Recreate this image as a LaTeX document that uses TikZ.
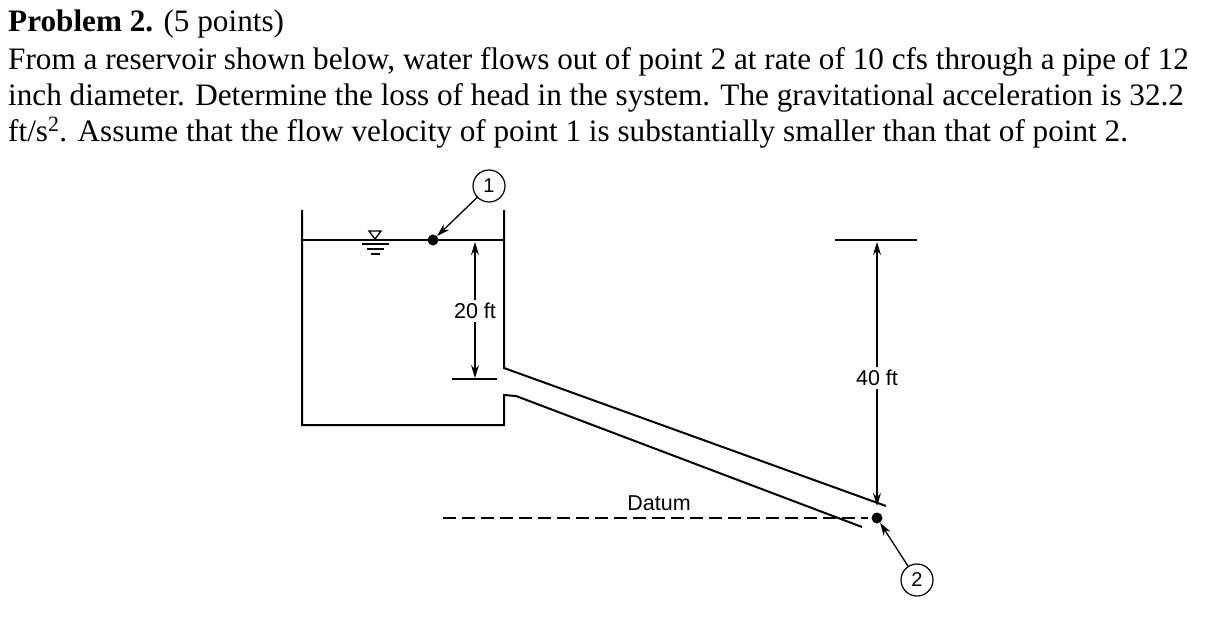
\documentclass[tikz,border=0pt]{standalone}
\usepackage{fontspec}
\setmainfont{Liberation Serif}
\newfontfamily\lsans{Liberation Sans}
\usetikzlibrary{arrows.meta}
\begin{document}
\begin{tikzpicture}[x=1pt,y=-1pt,
  ln/.style={line width=2pt},
  tl/.style={line width=1.3pt},
  arr/.style={tl,-{Stealth[length=13pt,width=8pt]}},
  lbl/.style={font=\lsans\fontsize{21.5}{24}\selectfont,inner sep=3pt},
  txt/.style={anchor=base west,inner sep=0pt,font=\fontsize{31.2}{36}\selectfont},
  pt/.style={circle,fill=black,inner sep=0pt,minimum size=11pt},
  cnum/.style={circle,draw,line width=1.2pt,minimum size=32pt,inner sep=0pt,font=\lsans\fontsize{20}{22}\selectfont}]
\useasboundingbox (0,0) rectangle (1212,622);
\node[txt] (t0) at (8,31) {\textbf{Problem 2.} (5 points)};
\node[txt] (t1) at (8,69) {From a reservoir shown below, water flows out of point 2 at rate of 10 cfs through a pipe of 12};
\node[txt] (t2) at (8,105) {inch diameter. Determine the loss of head in the system. The gravitational acceleration is 32.2};
\node[txt] (t3) at (8,141) {ft/s\textsuperscript{2}. Assume that the flow velocity of point 1 is substantially smaller than that of point 2.};
% reservoir
\draw[ln] (302,210) -- (302,425) -- (504,425) -- (504,395) -- (516,396) -- (862,527);
\draw[ln] (504,210) -- (504,368) -- (886,506);
\draw[tl] (302,240) -- (504,240);
% water symbol
\draw[tl] (369,231) -- (381,231) -- (375,239) -- cycle;
\draw[tl] (362,244) -- (389,244) (367,249) -- (384,249) (371,254) -- (380,254);
\node[pt] (p1) at (433,240) {};
\node[cnum] (c1) at (489,186) {1};
\draw[arr] (c1) -- (p1);
% 20 ft
\node[lbl] (l20) at (475,311) {20 ft};
\coordinate (a20) at (475,242);
\coordinate (b20) at (475,378);
\draw[tl] (452,379) -- (497,379);
\draw[arr] (l20.north) -- (a20);
\draw[arr] (l20.south) -- (b20);
% 40 ft
\node[lbl] (l40) at (877,378) {40 ft};
\draw[tl] (835,240) -- (917,240);
\coordinate (a40) at (877,242);
\coordinate (b40) at (877,506);
\draw[arr] (l40.north) -- (a40);
\draw[arr] (l40.south) -- (b40);
% datum
\draw[tl,dash pattern=on 13pt off 6pt] (443,518) -- (868,518);
\node[lbl] (ld) at (659,503) {Datum};
\node[pt] (p2) at (877,518) {};
\node[cnum] (c2) at (917,580) {2};
\draw[arr] (c2) -- (p2);
\end{tikzpicture}
\end{document}
